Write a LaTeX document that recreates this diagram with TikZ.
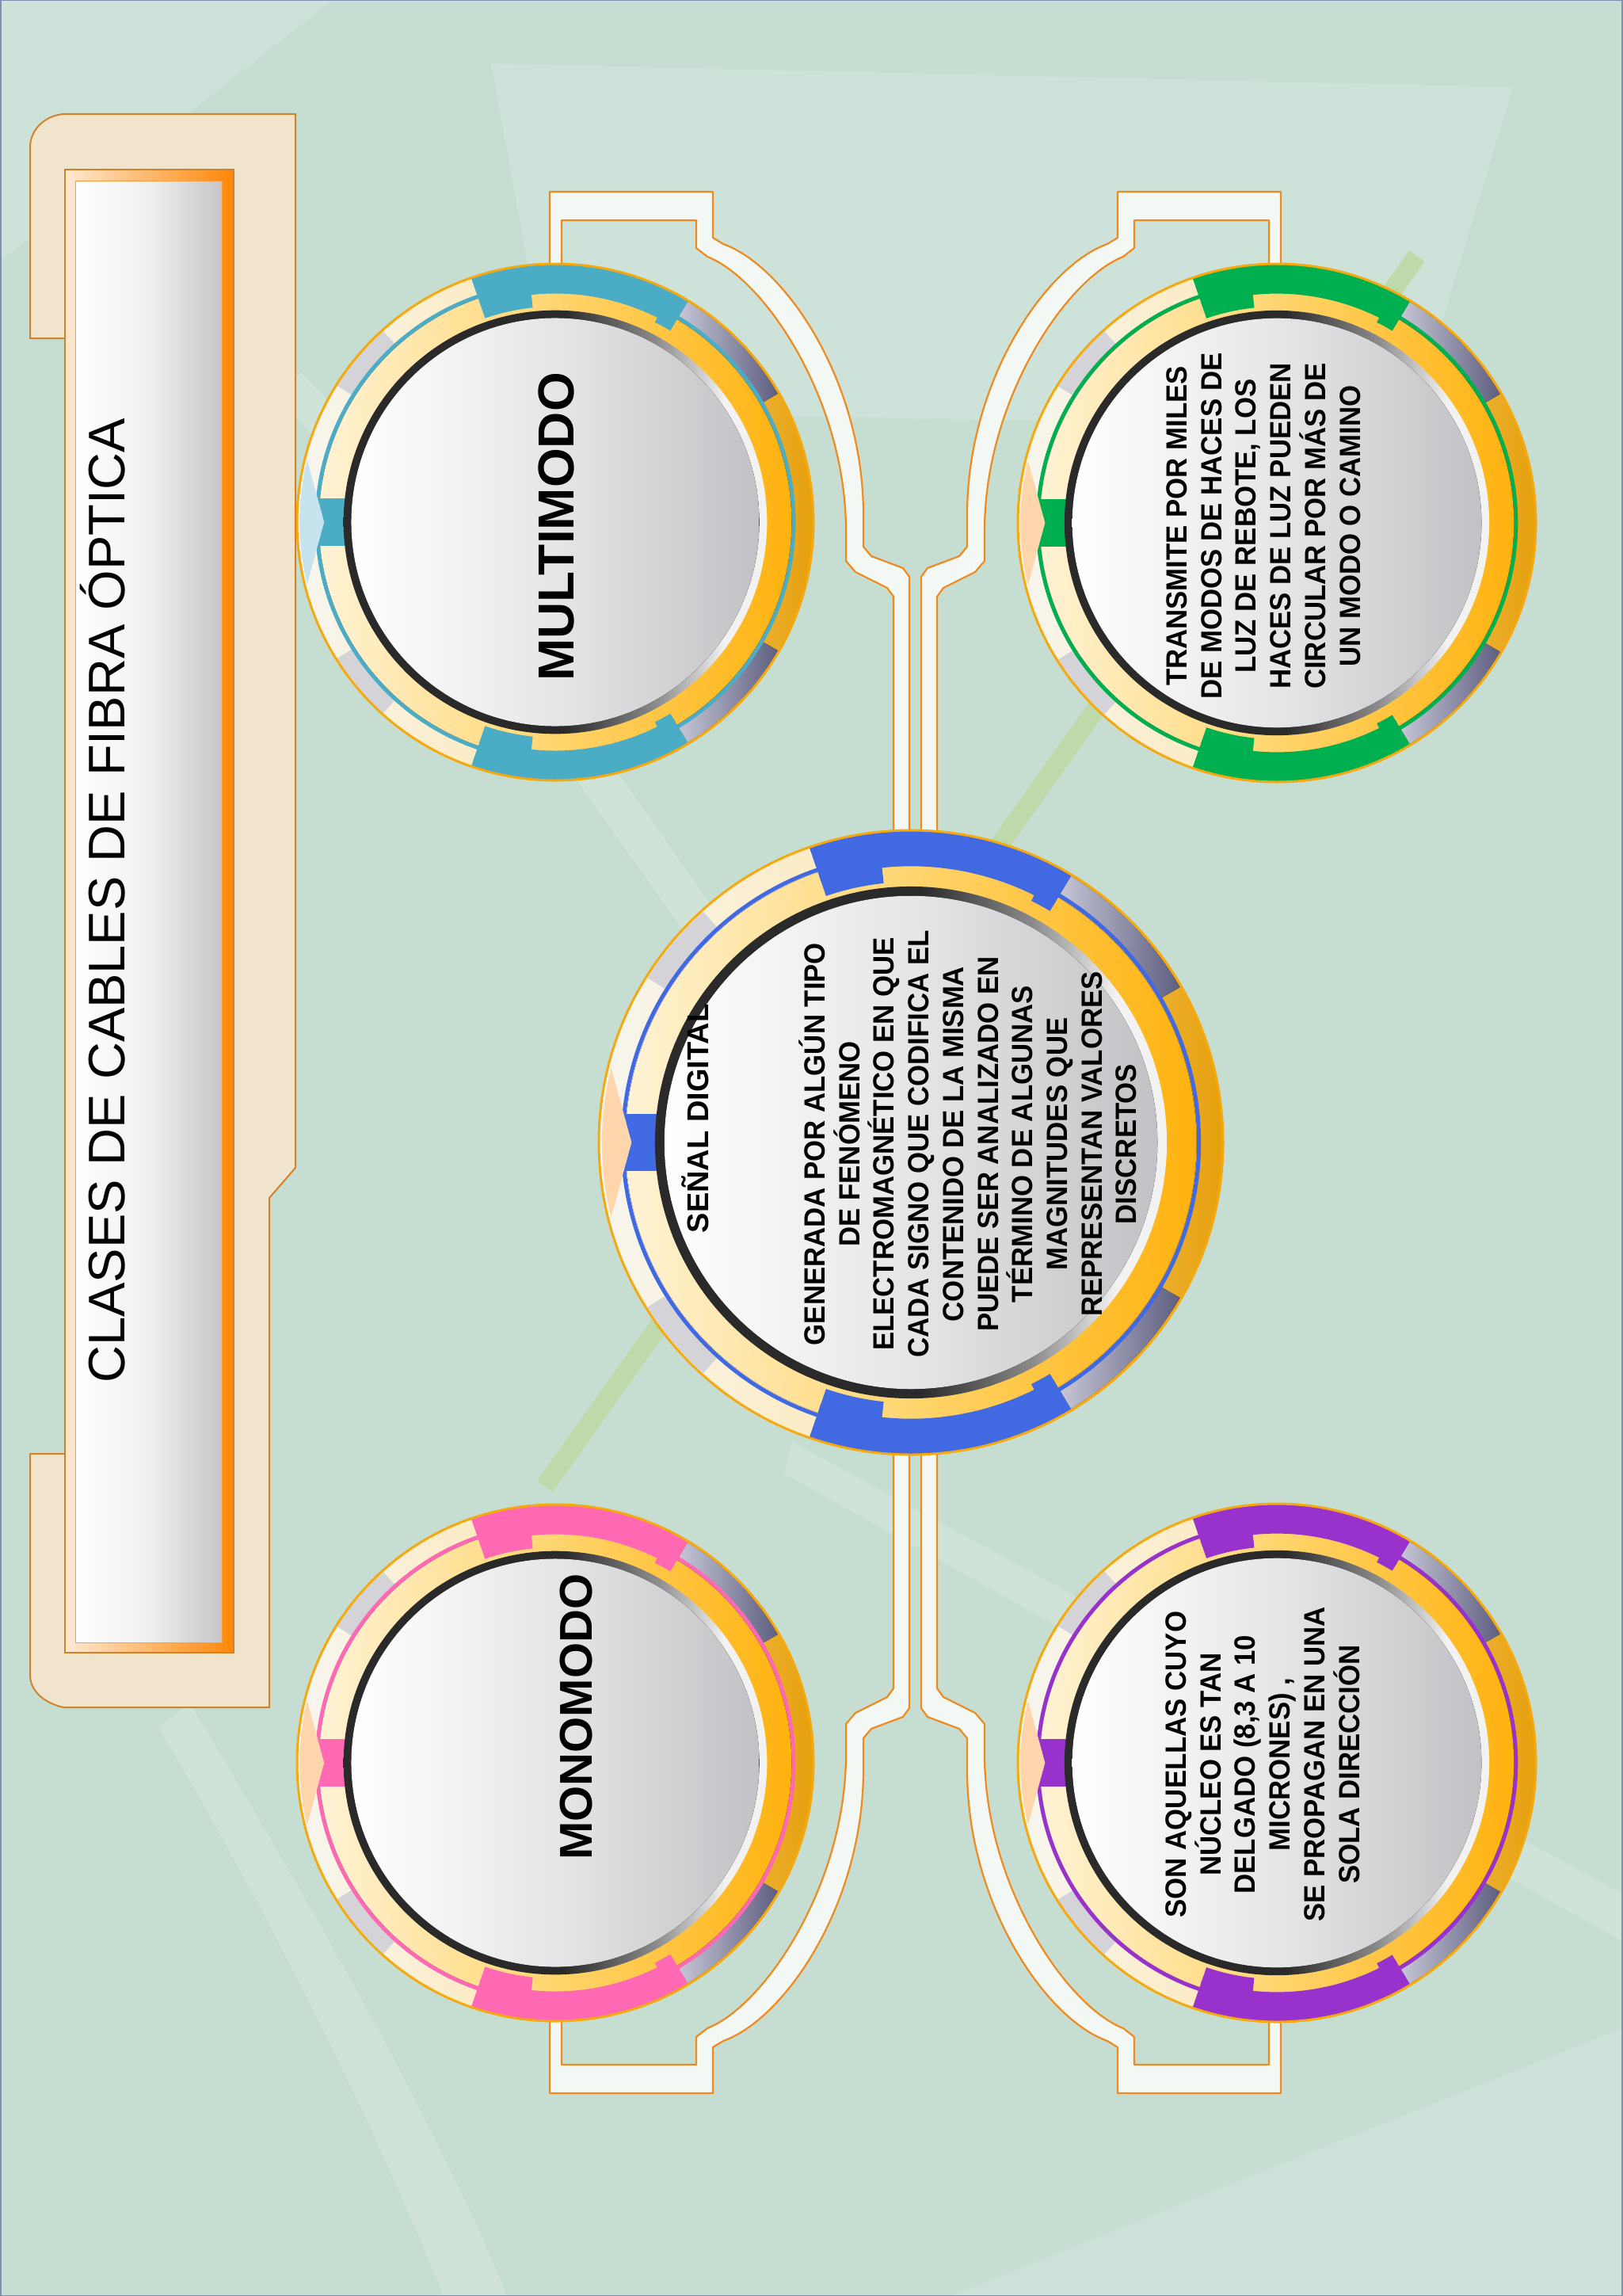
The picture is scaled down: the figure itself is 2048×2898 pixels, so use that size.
\documentclass[tikz,border=0pt]{standalone}
\usepackage{fontspec}
\setmainfont{Liberation Sans}
\newfontfamily\bodyfont[FakeStretch=0.94]{Liberation Sans}

\definecolor{bgmint}{HTML}{C6DED2}
\definecolor{bgpale}{HTML}{E4F0EA}
\definecolor{bandline}{HTML}{EE8A1E}
\definecolor{bandfill}{HTML}{F4F8F5}
\definecolor{goldborder}{HTML}{F5A90F}
\definecolor{outerL}{HTML}{F6F6F0}
\definecolor{outerM}{HTML}{FFE7B2}
\definecolor{outerR}{HTML}{E6A00C}
\definecolor{innerL}{HTML}{FFF3D6}
\definecolor{innerM}{HTML}{FFD56E}
\definecolor{innerR}{HTML}{FFB20E}
\definecolor{ringA}{HTML}{2A2A2A}
\definecolor{ringB}{HTML}{8C8C8C}
\definecolor{ringC}{HTML}{F2F2F2}
\definecolor{discL}{HTML}{FFFFFF}
\definecolor{discM}{HTML}{E6E6E8}
\definecolor{discR}{HTML}{C2C2C6}
\definecolor{greyL}{HTML}{C6C6D6}
\definecolor{greyR}{HTML}{5E5E80}
\definecolor{patch}{HTML}{D3D3D8}
\definecolor{peach}{HTML}{FFD6AC}
\definecolor{iceblue}{HTML}{C7E3EE}
\definecolor{acTeal}{HTML}{4BACC6}
\definecolor{acGreen}{HTML}{00B050}
\definecolor{acPink}{HTML}{FF69B4}
\definecolor{acPurple}{HTML}{9932CC}
\definecolor{acBlue}{HTML}{4169E1}
\definecolor{beige}{HTML}{F0E4CC}
\definecolor{beigeline}{HTML}{D4822A}
\definecolor{frameL}{HTML}{FFE9D2}
\definecolor{frameR}{HTML}{FF8608}
\definecolor{panelR}{HTML}{C6C6C6}
\definecolor{leafgreen}{HTML}{BDD9A3}
\definecolor{edgeblue}{HTML}{7F8FB0}

\pgfdeclarehorizontalshading{darkringshade}{100bp}{color(0bp)=(ringA); color(25bp)=(ringA); color(51bp)=(ringA); color(62bp)=(ringB); color(70bp)=(ringC); color(100bp)=(ringC)}

% annular sector: options, angle1, angle2, r1, r2
\newcommand{\annsec}[5]{\fill[#1] (#2:#4) arc[start angle=#2, end angle=#3, radius=#4] -- (#3:#5) arc[start angle=#3, end angle=#2, radius=#5] -- cycle;}

% fibre circle: name, x, y, radius, accent, tip colour
\newcommand{\fibercircle}[6]{%
  \begin{scope}[shift={(#2,#3)}, scale=#4]
    \fill[left color=outerL, right color=outerR, middle color=outerM] (0,0) circle[radius=1];
    \annsec{patch}{132}{148}{0.93}{0.995}
    \annsec{patch}{212}{228}{0.93}{0.995}
    \annsec{left color=greyL, right color=greyR}{30}{59}{0.925}{0.995}
    \annsec{left color=greyL, right color=greyR}{-30}{-59}{0.925}{0.995}
    \draw[#5, line width=5pt] (0,0) circle[radius=0.923];
    \fill[left color=innerL, right color=innerR, middle color=innerM] (0,0) circle[radius=0.915];
    \annsec{#5}{59}{109}{0.885}{1}
    \annsec{#5}{96}{109}{0.835}{0.9}
    \annsec{#5}{59}{63.5}{0.865}{0.9}
    \annsec{#5}{-59}{-109}{0.885}{1}
    \annsec{#5}{-96}{-109}{0.835}{0.9}
    \annsec{#5}{-59}{-63.5}{0.865}{0.9}
    \fill[#5] (-0.925,-0.092) rectangle (-0.815,0.092);
    \fill[#6] (166:0.99) arc[start angle=166, end angle=194, radius=0.99] -- (-0.895,0) -- cycle;
    \draw[goldborder, line width=3pt] (0,0) circle[radius=1];
    \shade[shading=darkringshade] (0,0) circle[radius=0.82];
    \fill[left color=discL, right color=discR, middle color=discM] (0,0) circle[radius=0.79];
  \end{scope}
  \node[circle, minimum size=2*#4 pt, inner sep=0pt] (#1) at (#2,#3) {};
}

% connector band from the upper left circle to the centre circle
\newcommand{\bandA}{%
  \filldraw[bandstyle]
    (694,420) -- (694,242) -- (900,242) -- (900,300) -- (913,308)
    .. controls (990,335) and (1090,480) .. (1090,650)
    -- (1090,690) -- (1100,702) -- (1140,717) -- (1148,728)
    -- (1148,1120) -- (1128,1120)
    -- (1128,753) -- (1120,742) -- (1080,722) -- (1068,708)
    -- (1068,670)
    .. controls (1068,505) and (965,352) .. (893,324)
    -- (879,313) -- (879,278) -- (709,278) -- (709,420) -- cycle;}

\begin{document}
\begin{tikzpicture}[x=1pt, y=-1pt,
  bandstyle/.style={fill=bandfill, draw=bandline, line width=2.2pt, line join=round},
  bodytext/.style={rotate=90, align=center, text=black, font={\bodyfont\bfseries\fontsize{37}{43.7}\selectfont}},
  bigtext/.style={rotate=90, anchor=base, text=black, font={\bfseries\fontsize{#1}{#1}\selectfont}}]
\useasboundingbox (0,0) rectangle (2048,2898);

% background
\fill[bgmint] (0,0) rectangle (2048,2898);
\fill[bgpale, opacity=0.25] (0,0) -- (420,0) -- (0,330) -- cycle;
\fill[bgpale, opacity=0.25] (620,80) -- (1910,110) -- (1780,540) -- (700,520) -- cycle;
\fill[bgpale, opacity=0.3] (380,470) .. controls (600,700) and (760,950) .. (1050,1360) -- (1010,1380) .. controls (720,980) and (560,730) .. (350,500) -- cycle;
\fill[bgpale, opacity=0.3] (240,2150) .. controls (420,2450) and (560,2700) .. (640,2898) -- (560,2898) .. controls (480,2700) and (360,2450) .. (200,2180) -- cycle;
\fill[bgpale, opacity=0.3] (1000,1820) -- (2048,2390) -- (2048,2450) -- (990,1860) -- cycle;
\fill[bgpale, opacity=0.25] (1200,2898) -- (2048,2560) -- (2048,2898) -- cycle;
\draw[leafgreen, line width=24pt, opacity=0.85] (1789,323) -- (688,1876);

% title block
\filldraw[fill=beige, draw=beigeline, line width=2pt]
  (80,144) -- (373,144) -- (373,1474) -- (340,1512) -- (340,2155) -- (80,2155)
  .. controls (58,2150) and (38,2136) .. (38,2114) -- (38,1835) -- (82,1835)
  -- (82,427) -- (38,427) -- (38,186) .. controls (38,164) and (56,146) .. (80,144) -- cycle;
\filldraw[left color=frameL, right color=frameR, draw=beigeline, line width=1.5pt] (82,214) rectangle (295,2086);
\filldraw[left color=white, right color=panelR, middle color=white!94!black, draw=frameR!80, line width=1pt] (95,228) rectangle (280,2073);
\node[rotate=90, anchor=base, text=black, font={\fontsize{65}{70}\selectfont}] (title) at (157,1137) {CLASES DE CABLES DE FIBRA ÓPTICA};

% connector bands
\bandA
\begin{scope}[shift={(2311,0)}, xscale=-1] \bandA \end{scope}
\begin{scope}[shift={(0,2884)}, yscale=-1] \bandA \end{scope}
\begin{scope}[shift={(2311,2884)}, xscale=-1, yscale=-1] \bandA \end{scope}

% circles
\fibercircle{multi}{701}{659}{326}{acTeal}{iceblue}
\fibercircle{trans}{1612}{660}{327}{acGreen}{peach}
\fibercircle{mono}{701}{2225}{326}{acPink}{peach}
\fibercircle{single}{1612}{2225}{327}{acPurple}{peach}
\fibercircle{digital}{1150}{1442}{394}{acBlue}{peach}

% texts
\node[bigtext=64] (multitext) at (724,665) {MULTIMODO};
\node[bigtext=58] (monotext) at (747,2167) {MONOMODO};
\node[bigtext=38] (digitaltitle) at (894,1412) {SEÑAL DIGITAL};
\node[bodytext] (digitaltext) at (1222,1444) {GENERADA POR ALGÚN TIPO\\DE FENÓMENO\\ELECTROMAGNÉTICO EN QUE\\CADA SIGNO QUE CODIFICA EL\\CONTENIDO DE LA MISMA\\PUEDE SER ANALIZADO EN\\TÉRMINO DE ALGUNAS\\MAGNITUDES QUE\\REPRESENTAN VALORES\\DISCRETOS};
\node[bodytext] (transtext) at (1595,664) {TRANSMITE POR MILES\\DE MODOS DE HACES DE\\LUZ DE REBOTE, LOS\\HACES DE LUZ PUEDEN\\CIRCULAR POR MÁS DE\\UN MODO O CAMINO};
\node[bodytext] (singletext) at (1594,2227) {SON AQUELLAS CUYO\\NÚCLEO ES TAN\\DELGADO (8,3 A 10\\MICRONES) ,\\SE PROPAGAN EN UNA\\SOLA DIRECCIÓN};

% frame
\draw[edgeblue, line width=3pt] (0,0) rectangle (2048,2898);
\end{tikzpicture}
\end{document}
